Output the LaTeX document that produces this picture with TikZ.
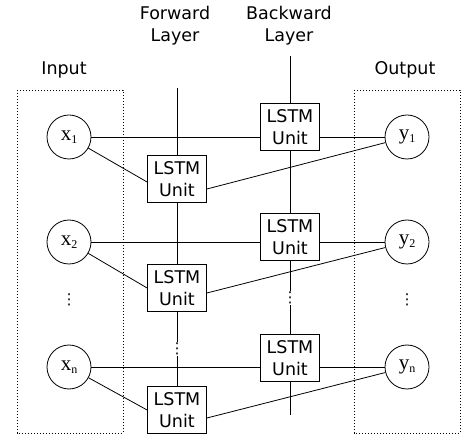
\documentclass[tikz,border=0pt]{standalone}
\usepackage{fontspec}
\setmainfont{DejaVu Sans}
\newfontfamily\varfont{Liberation Serif}
\usetikzlibrary{positioning}
\newcommand{\seqvar}[2]{{\varfont\fontsize{21}{21}\selectfont #1\raisebox{-3pt}{\fontsize{12}{12}\selectfont #2}}}

\begin{document}
\begin{tikzpicture}[
        x=1pt, y=-1pt,
        block/.style={rectangle, draw, line width=0.8pt, minimum width=59pt, minimum height=47pt, inner sep=0pt, align=center, font=\fontsize{17.5}{22}\selectfont},
        unit/.style={circle, draw, line width=0.8pt, minimum size=44pt, inner sep=0pt},
        group/.style={draw, line width=0.8pt, dash pattern=on 1.4pt off 1.6pt},
        heading/.style={align=center, font=\fontsize{17.5}{22}\selectfont},
        dots/.style={inner sep=1pt, font=\fontsize{15}{15}\selectfont},
        line/.style={draw, line width=0.8pt}
    ]
        \useasboundingbox (0,0) rectangle (474,443);

        % headings
        \node [heading] (fwdhead) at (175,26) {Forward\\Layer};
        \node [heading] (bwdhead) at (289,26) {Backward\\Layer};
        \node [heading] (inhead) at (64,70) {Input};
        \node [heading] (outhead) at (405,70) {Output};

        % input / output groups
        \draw [group] (17,90) rectangle (123,433);
        \draw [group] (354,90) rectangle (460,433);

        % inputs and outputs
        \node [unit] (x1) at (69,137) {\seqvar{x}{1}};
        \node [unit] (x2) at (69,242) {\seqvar{x}{2}};
        \node [unit] (xn) at (69,367) {\seqvar{x}{n}};
        \node [unit] (y1) at (407,137) {\seqvar{y}{1}};
        \node [unit] (y2) at (407,242) {\seqvar{y}{2}};
        \node [unit] (yn) at (407,367) {\seqvar{y}{n}};
        \node [dots] (xdots) at (69,300) {⋮};
        \node [dots] (ydots) at (407,300) {⋮};

        % forward layer
        \coordinate (ftop) at (177,88);
        \node [block] (f1) at (177,179) {LSTM\\Unit};
        \node [block] (f2) at (177,288) {LSTM\\Unit};
        \node [block] (f3) at (177,410) {LSTM\\Unit};
        \node [dots] (fdots) at (177,349) {⋮};

        % backward layer
        \coordinate (btop) at (290,56);
        \node [block] (b1) at (290,127) {LSTM\\Unit};
        \node [block] (b2) at (290,237) {LSTM\\Unit};
        \node [block] (b3) at (290,358) {LSTM\\Unit};
        \node [dots] (bdots) at (290,298) {⋮};
        \coordinate (bend) at (290,415);

        \path [line] (ftop) -- (f1) -- (f2) -- (fdots) -- (f3);
        \path [line] (btop) -- (b1) -- (b2) -- (bdots) -- (b3) -- (bend);

        \path [line] (x1) -- (x1 -| b1.west);
        \path [line] (x2) -- (x2 -| b2.west);
        \path [line] (xn) -- (xn -| b3.west);
        \path [line] (b1.east |- y1) -- (y1);
        \path [line] (b2.east |- y2) -- (y2);
        \path [line] (b3.east |- yn) -- (yn);

        \path [line] (x1) -- ([yshift=-3pt]f1.west);
        \path [line] (x2) -- (f2.west);
        \path [line] (xn) -- (f3.west);
        \path [line] ([yshift=-10pt]f1.east) -- (y1);
        \path [line] ([yshift=-5pt]f2.east) -- (y2);
        \path [line] ([yshift=-8pt]f3.east) -- (yn);
    \end{tikzpicture}
\end{document}
